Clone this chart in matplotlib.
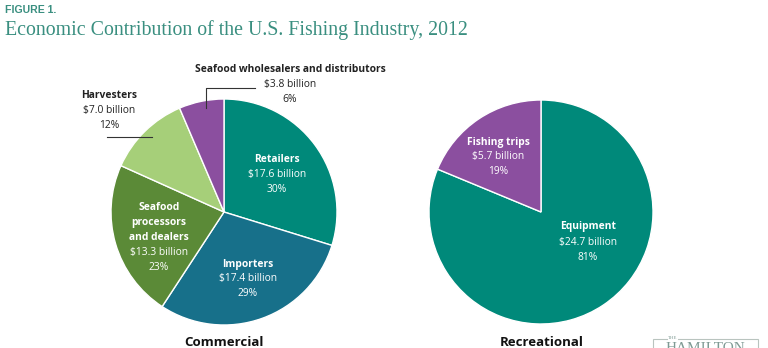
import matplotlib.pyplot as plt
from matplotlib.patches import Rectangle

W, H = 768, 348

# commercial fishing, $ billion, clockwise from 12 o'clock
com_names = [["Retailers"], ["Importers"], ["Seafood", "processors", "and dealers"],
             ["Harvesters"], ["Seafood wholesalers and distributors"]]
com_values = [17.6, 17.4, 13.3, 7.0, 3.8]
com_colors = ["#00897a", "#17708a", "#5b8a37", "#a6cf79", "#8b4f9f"]

# recreational fishing
rec_names = [["Equipment"], ["Fishing trips"]]
rec_values = [24.7, 5.7]
rec_colors = ["#00897a", "#8b4f9f"]

TEAL = "#3a8f80"
FONT = "Open Sans"
LINE = 15

fig = plt.figure(figsize=(W / 100, H / 100), dpi=100)
ax = fig.add_axes([0, 0, 1, 1])


def Y(y):
    return H - y


def draw_pie(values, colors, cx, cy, r):
    ax.pie(values, colors=colors, startangle=90, counterclock=False,
           center=(cx, Y(cy)), radius=r, frame=True,
           wedgeprops=dict(edgecolor="white", linewidth=1.0))


def put_label(x, y, name, value, total, color):
    pct = round(value / total * 100)
    lines = [(n, "bold") for n in name] + [(f"${value:.1f} billion", "normal"), (f"{pct}%", "normal")]
    for i, (txt, w) in enumerate(lines):
        ax.text(x, Y(y + i * LINE), txt, ha="center", va="center", color=color,
                fontsize=7.4, fontweight=w, family=FONT)


draw_pie(com_values, com_colors, 224, 212, 113)
draw_pie(rec_values, rec_colors, 541, 212, 112)
ax.set_xlim(0, W)
ax.set_ylim(0, H)
ax.set_aspect("equal")
ax.axis("off")

tot_c = sum(com_values)
tot_r = sum(rec_values)

# label anchors (first line), image pixels
put_label(277, 159, com_names[0], com_values[0], tot_c, "white")
put_label(248, 264, com_names[1], com_values[1], tot_c, "white")
put_label(159, 208, com_names[2], com_values[2], tot_c, "white")
put_label(109, 95, com_names[3], com_values[3], tot_c, "#222222")
put_label(290, 70, com_names[4], com_values[4], tot_c, "#222222")
put_label(588, 227, rec_names[0], rec_values[0], tot_r, "white")
put_label(498, 142, rec_names[1], rec_values[1], tot_r, "white")

# leader lines
ax.plot([255, 206, 206], [Y(88), Y(88), Y(108)], color="#333333", lw=0.8)
ax.plot([107, 152], [Y(137), Y(137)], color="#333333", lw=0.8)

# pie titles, running off the bottom edge
ax.text(224, Y(343), "Commercial", ha="center", va="center", fontsize=9.5,
        fontweight="bold", family=FONT, color="#111111")
ax.text(542, Y(343), "Recreational", ha="center", va="center", fontsize=9.5,
        fontweight="bold", family=FONT, color="#111111")

# heading
ax.text(5, Y(10), "FIGURE 1.", ha="left", va="center", fontsize=7.6,
        fontweight="bold", family="Liberation Sans", color=TEAL)
ax.text(5, Y(30), "Economic Contribution of the U.S. Fishing Industry, 2012",
        ha="left", va="center", fontsize=14.3, family="Liberation Serif", color=TEAL)

# logo in the corner
ax.add_patch(Rectangle((653, Y(360)), 105, 21, fill=False, edgecolor="#b9c4bf", lw=0.8))
ax.text(673, Y(338), "THE", ha="center", va="center", fontsize=3.5,
        family="Liberation Serif", color="#7f9a94",
        bbox=dict(facecolor="white", edgecolor="none", pad=0.5))
ax.text(705, Y(349), "HAMILTON", ha="center", va="center", fontsize=11,
        family="Liberation Serif", color="#7f9a94")

fig.savefig("out.png", dpi=100, facecolor="white")
